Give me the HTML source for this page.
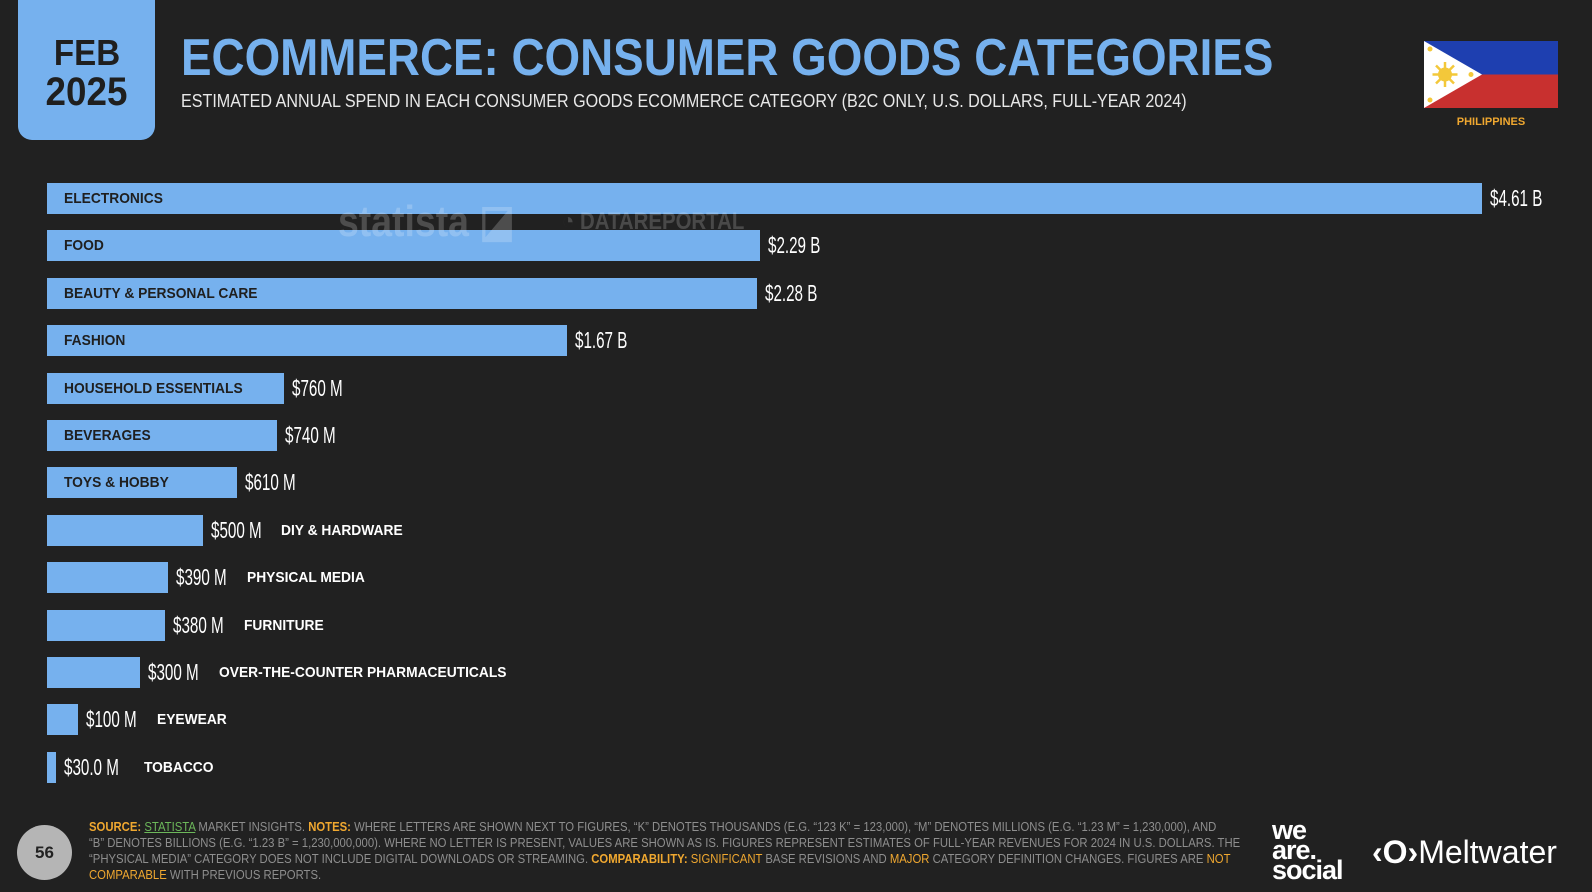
<!DOCTYPE html>
<html><head><meta charset="utf-8">
<style>
body{margin:0;background:#212121;}
#page{position:relative;width:1592px;height:892px;background:#212121;overflow:hidden;font-family:"Liberation Sans",sans-serif;}
.abs{position:absolute;}
.cond{display:inline-block;transform:scaleX(0.72);transform-origin:left center;white-space:nowrap;}
.foot span{white-space:nowrap;}
</style></head>
<body>
<div id="page">
  <div class="abs" style="left:18px;top:0;width:137px;height:140px;background:#76b1ee;border-radius:0 0 14px 14px;text-align:center;color:#1f1f1f;font-weight:bold;">
    <div style="margin-top:34px;font-size:36px;line-height:38px;"><span class="cond" style="transform:scaleX(0.92);transform-origin:center">FEB</span></div>
    <div style="font-size:40px;line-height:40px;"><span class="cond" style="transform:scaleX(0.92);transform-origin:center">2025</span></div>
  </div>
  <div class="abs" style="left:181px;top:30px;font-size:52px;font-weight:bold;color:#76b1ee;line-height:56px;"><span class="cond" style="transform:scaleX(0.88)">ECOMMERCE: CONSUMER GOODS CATEGORIES</span></div>
  <div class="abs" style="left:181px;top:90px;font-size:18px;color:#e8e8e8;line-height:22px;"><span class="cond" style="transform:scaleX(0.895)">ESTIMATED ANNUAL SPEND IN EACH CONSUMER GOODS ECOMMERCE CATEGORY (B2C ONLY, U.S. DOLLARS, FULL-YEAR 2024)</span></div>
  <svg class="abs" style="left:1424px;top:41px" width="134" height="67" viewBox="0 0 134 67">
    <rect width="134" height="33.5" fill="#1e3fb0"/><rect y="33.5" width="134" height="33.5" fill="#c8302f"/>
    <polygon points="0,0 58,33.5 0,67" fill="#fff"/>
    <circle cx="21" cy="33.5" r="7" fill="#f3c83a"/>
    <g stroke="#f3c83a" stroke-width="2.5"><line x1="21" y1="21" x2="21" y2="46"/><line x1="8.5" y1="33.5" x2="33.5" y2="33.5"/><line x1="12" y1="24.5" x2="30" y2="42.5"/><line x1="30" y1="24.5" x2="12" y2="42.5"/></g>
    <circle cx="6" cy="8" r="2.5" fill="#f3c83a"/><circle cx="6" cy="59" r="2.5" fill="#f3c83a"/><circle cx="47" cy="33.5" r="2.5" fill="#f3c83a"/>
  </svg>
  <div class="abs" style="left:1424px;top:116px;width:134px;text-align:center;font-size:11px;font-weight:bold;color:#f0a830;">PHILIPPINES</div>

  <div id="chart" class="abs" style="left:0;top:0;width:1592px;height:800px;"></div>

  <div class="abs" style="left:338px;top:196px;font-size:44px;font-weight:bold;color:rgba(255,255,255,0.2);"><span class="cond" style="transform:scaleX(0.85)">statista ◪</span></div>
  <div class="abs" style="left:562px;top:208px;font-size:24px;font-weight:bold;color:rgba(255,255,255,0.18);"><span class="cond" style="transform:scaleX(0.85)">◔ DATAREPORTAL</span></div>

  <div class="abs" style="left:17px;top:825px;width:55px;height:55px;border-radius:50%;background:#b5b5b5;color:#222;font-weight:bold;font-size:17px;line-height:55px;text-align:center;">56</div>
  <div class="abs foot" style="left:89px;top:819px;font-size:12.5px;line-height:16px;color:#8e8e8e;width:1560px;">
    <div><span class="cond" style="transform:scaleX(0.905)"><b style="color:#f0a830">SOURCE:</b> <span style="color:#6cb85a;text-decoration:underline">STATISTA</span> MARKET INSIGHTS. <b style="color:#f0a830">NOTES:</b> WHERE LETTERS ARE SHOWN NEXT TO FIGURES, “K” DENOTES THOUSANDS (E.G. “123 K” = 123,000), “M” DENOTES MILLIONS (E.G. “1.23 M” = 1,230,000), AND</span></div>
    <div><span class="cond" style="transform:scaleX(0.905)">“B” DENOTES BILLIONS (E.G. “1.23 B” = 1,230,000,000). WHERE NO LETTER IS PRESENT, VALUES ARE SHOWN AS IS. FIGURES REPRESENT ESTIMATES OF FULL-YEAR REVENUES FOR 2024 IN U.S. DOLLARS. THE</span></div>
    <div><span class="cond" style="transform:scaleX(0.905)">“PHYSICAL MEDIA” CATEGORY DOES NOT INCLUDE DIGITAL DOWNLOADS OR STREAMING. <b style="color:#f0a830">COMPARABILITY:</b> <span style="color:#f0a830">SIGNIFICANT</span> BASE REVISIONS AND <span style="color:#f0a830">MAJOR</span> CATEGORY DEFINITION CHANGES. FIGURES ARE <span style="color:#f0a830">NOT</span></span></div>
    <div><span class="cond" style="transform:scaleX(0.905)"><span style="color:#f0a830">COMPARABLE</span> WITH PREVIOUS REPORTS.</span></div>
  </div>
  <div class="abs" style="left:1272px;top:820px;font-size:27px;font-weight:bold;line-height:20px;color:#fff;letter-spacing:-1px;">we<br>are.<br>social</div>
  <div class="abs" style="left:1372px;top:834px;font-size:32px;color:#fff;line-height:36px;white-space:nowrap;"><b>‹O›</b>Meltwater</div>
</div>
<script>
const categories=["ELECTRONICS","FOOD","BEAUTY & PERSONAL CARE","FASHION","HOUSEHOLD ESSENTIALS","BEVERAGES","TOYS & HOBBY","DIY & HARDWARE","PHYSICAL MEDIA","FURNITURE","OVER-THE-COUNTER PHARMACEUTICALS","EYEWEAR","TOBACCO"];
const values=[4.61,2.29,2.28,1.67,0.76,0.74,0.61,0.50,0.39,0.38,0.30,0.10,0.03];
const valueLabels=["$4.61 B","$2.29 B","$2.28 B","$1.67 B","$760 M","$740 M","$610 M","$500 M","$390 M","$380 M","$300 M","$100 M","$30.0 M"];
const chart=document.getElementById('chart');
const x0=47, pxPerB=311.3;
function xScale(v){return v*pxPerB;}
function yScale(i){return 183+i*47.4;}
categories.forEach((c,i)=>{
  const w=Math.max(xScale(values[i]),3), y=yScale(i);
  const bar=document.createElement('div');
  
  
  bar.style.cssText=`position:absolute;left:${x0}px;top:${y}px;width:${w}px;height:31px;background:#76b1ee;`;
  chart.appendChild(bar);
  const inside=w>175;
  if(inside){
    const lab=document.createElement('div');
    
    
    lab.style.cssText=`position:absolute;left:${x0+17}px;top:${y}px;line-height:31px;font-size:15px;font-weight:bold;color:#1f1f1f;white-space:nowrap;`;
    lab.innerHTML='<span class="cond" style="transform:scaleX(0.92)">'+c.replace('&','&amp;')+'</span>';
    chart.appendChild(lab);
  }
  const val=document.createElement('div');
  
  
  val.style.cssText=`position:absolute;left:${x0+w+8}px;top:${y}px;line-height:31px;font-size:23px;color:#fff;white-space:nowrap;`;
  val.innerHTML='<span class="cond" style="transform:scaleX(0.66)">'+valueLabels[i]+'</span>';
  chart.appendChild(val);
  if(!inside){
    const vw=valueLabels[i].length*8.6;
    const lab=document.createElement('div');
    
    
    lab.style.cssText=`position:absolute;left:${x0+w+8+vw+19}px;top:${y}px;line-height:31px;font-size:15px;font-weight:bold;color:#fff;white-space:nowrap;`;
    lab.innerHTML='<span class="cond" style="transform:scaleX(0.92)">'+c.replace('&','&amp;')+'</span>';
    chart.appendChild(lab);
  }
});
</script>
</body></html>
